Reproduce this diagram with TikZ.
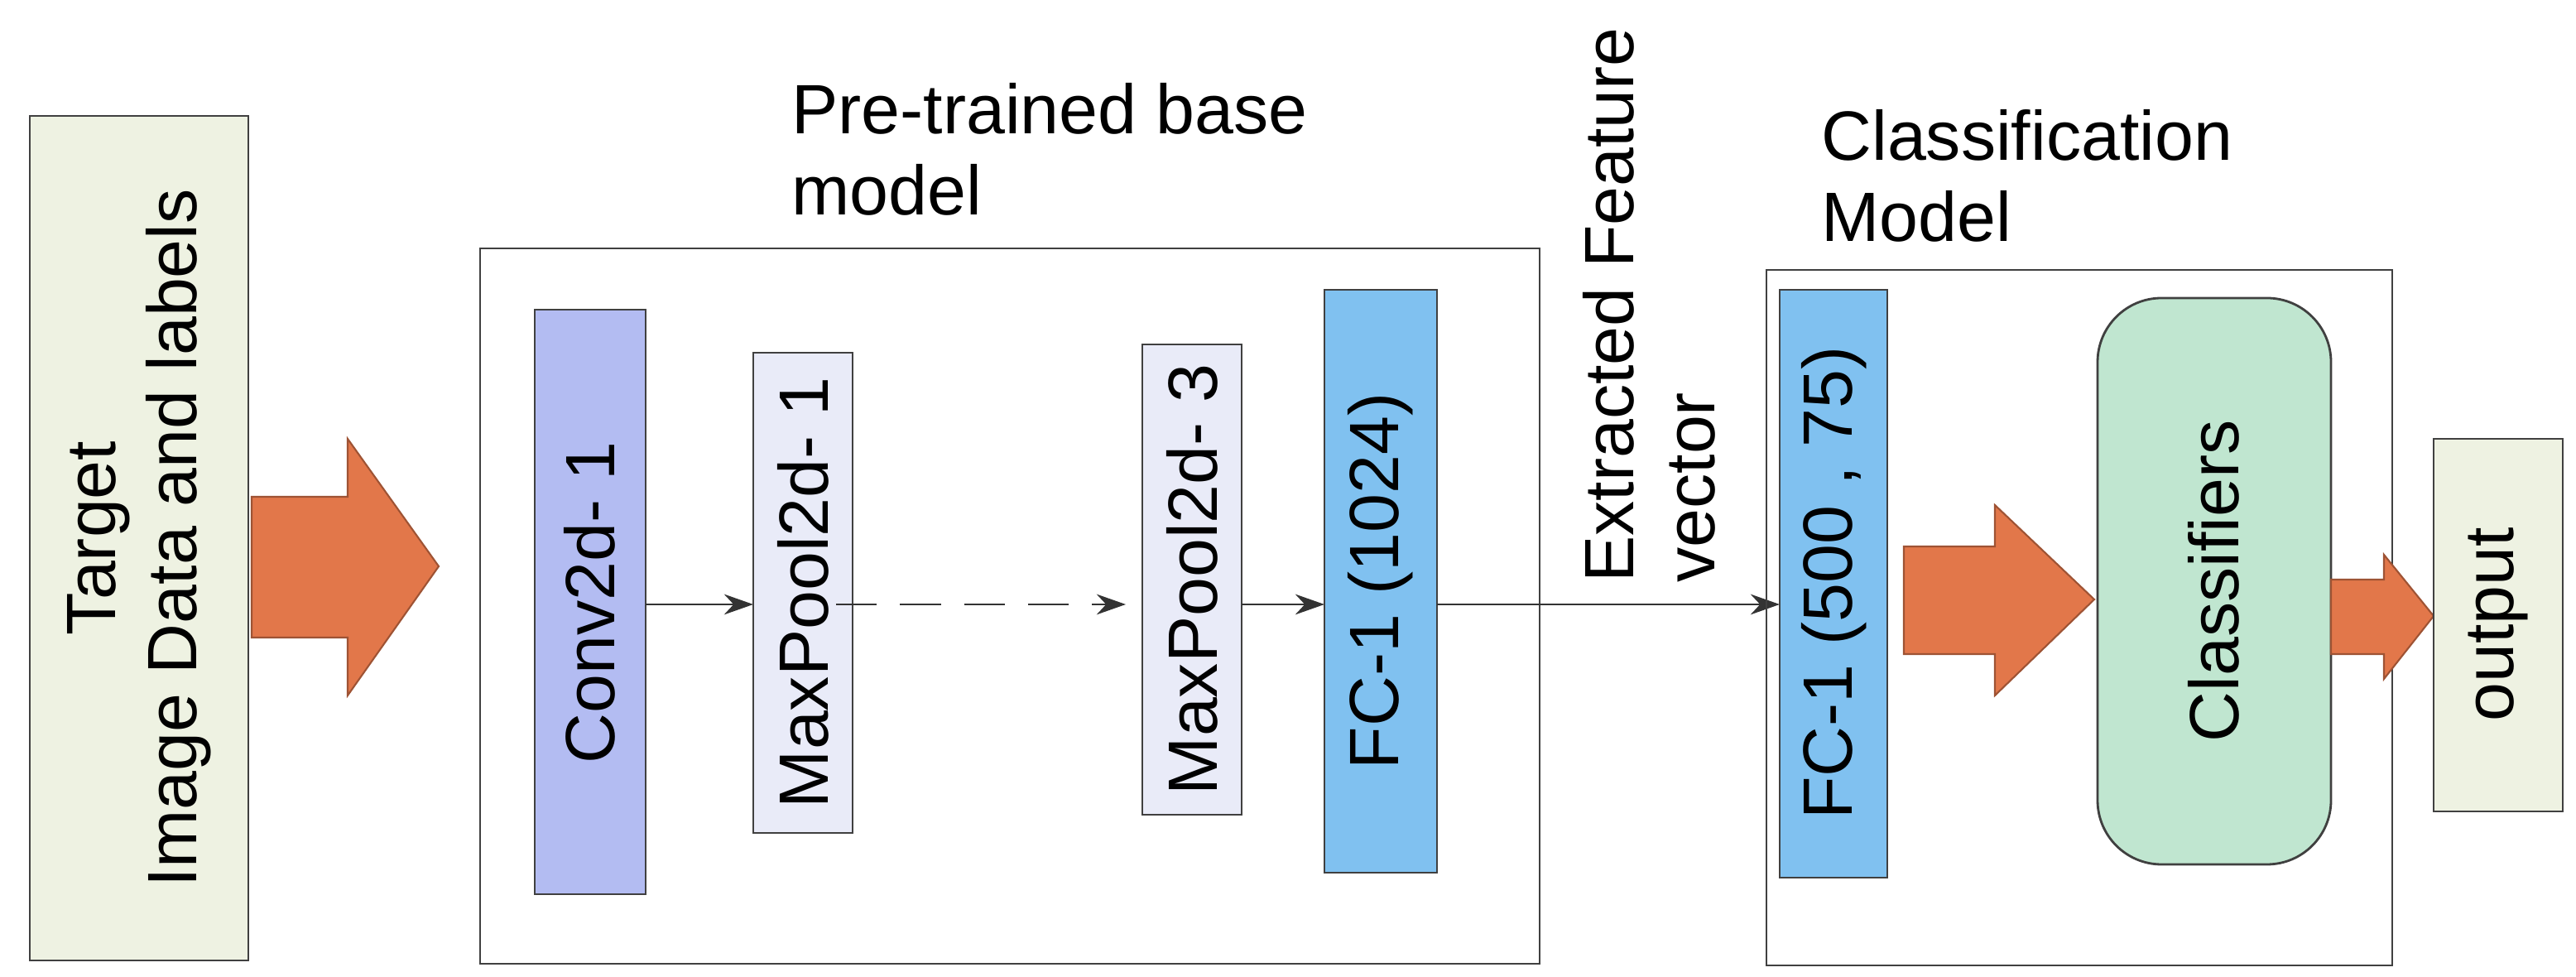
\documentclass[tikz,border=0pt]{standalone}
\usepackage{fontspec}
\setmainfont{Liberation Sans}
\usetikzlibrary{arrows.meta}
\definecolor{orng}{HTML}{E2774A}
\definecolor{lgreen}{HTML}{EEF2E2}
\definecolor{conv}{HTML}{B3BCF2}
\definecolor{pool}{HTML}{E9EBF8}
\definecolor{fc}{HTML}{80C1F0}
\definecolor{cls}{HTML}{C0E6D0}
\begin{document}
\begin{tikzpicture}[x=0.02cm,y=-0.02cm,
  txt/.style={font=\fontsize{24}{28}\selectfont},
  blk/.style={draw=black!75,line width=0.8pt},
  bigarrow/.style={fill=orng,draw=orng!70!black,line width=0.6pt},
  con/.style={-{Stealth[length=10pt,width=7pt]},line width=0.8pt,black!80}]
\useasboundingbox (0,0) rectangle (1556,590);
% target
\draw[blk,fill=lgreen] (18,70) rectangle (150,580);
\node[txt,rotate=90,align=center] (tgt) at (84,325) {Target\\Image Data and labels};
\draw[bigarrow] (152,300) -- (210,300) -- (210,265) -- (265,342) -- (210,420) -- (210,385) -- (152,385) -- cycle;
% pretrained
\draw[blk] (290,150) rectangle (930,582);
\node[txt,align=left,anchor=north west] (pl) at (472,44) {Pre-trained base\\model};
\draw[blk,fill=conv] (323,187) rectangle (390,540);
\node[txt,rotate=90] (c1) at (356,364) {Conv2d- 1};
\draw[blk,fill=pool] (455,213) rectangle (515,503);
\node[txt,rotate=90] (m1) at (485,358) {MaxPool2d- 1};
\draw[blk,fill=pool] (690,208) rectangle (750,492);
\node[txt,rotate=90] (m3) at (720,350) {MaxPool2d- 3};
\draw[blk,fill=fc] (800,175) rectangle (868,527);
\node[txt,rotate=90] (f1) at (834,351) {FC-1 (1024)};
\coordinate (a1) at (390,365); \coordinate (a2) at (455,365);
\coordinate (b1) at (505,365); \coordinate (b2) at (680,365);
\coordinate (d1) at (750,365); \coordinate (d2) at (800,365);
\coordinate (e1) at (868,365); \coordinate (e2) at (1075,365);
\draw[con] (a1) -- (a2);
\draw[con,dash pattern=on 14pt off 8pt] (b1) -- (b2);
\draw[con] (d1) -- (d2);
\draw[con] (e1) -- (e2);
\node[txt,rotate=90,align=left,anchor=north west] (ef) at (950,358) {Extracted Feature\\vector};
% classification
\draw[blk] (1067,163) rectangle (1445,583);
\node[txt,align=left,anchor=north west] (cl) at (1094,60) {Classification\\Model};
\draw[blk,fill=fc] (1075,175) rectangle (1140,530);
\node[txt,rotate=90] (f2) at (1108,352) {FC-1 (500 , 75)};
\draw[bigarrow] (1150,330) -- (1205,330) -- (1205,305) -- (1265,362) -- (1205,420) -- (1205,395) -- (1150,395) -- cycle;
\draw[blk,fill=cls,rounded corners=22pt] (1267,180) rectangle (1408,522);
\node[txt,rotate=90] (cf) at (1337,351) {Classifiers};
\draw[bigarrow] (1408,350) -- (1440,350) -- (1440,335) -- (1470,372) -- (1440,410) -- (1440,395) -- (1408,395) -- cycle;
\draw[blk,fill=lgreen] (1470,265) rectangle (1548,490);
\node[txt,rotate=90] (out) at (1509,377) {output};
\end{tikzpicture}
\end{document}
